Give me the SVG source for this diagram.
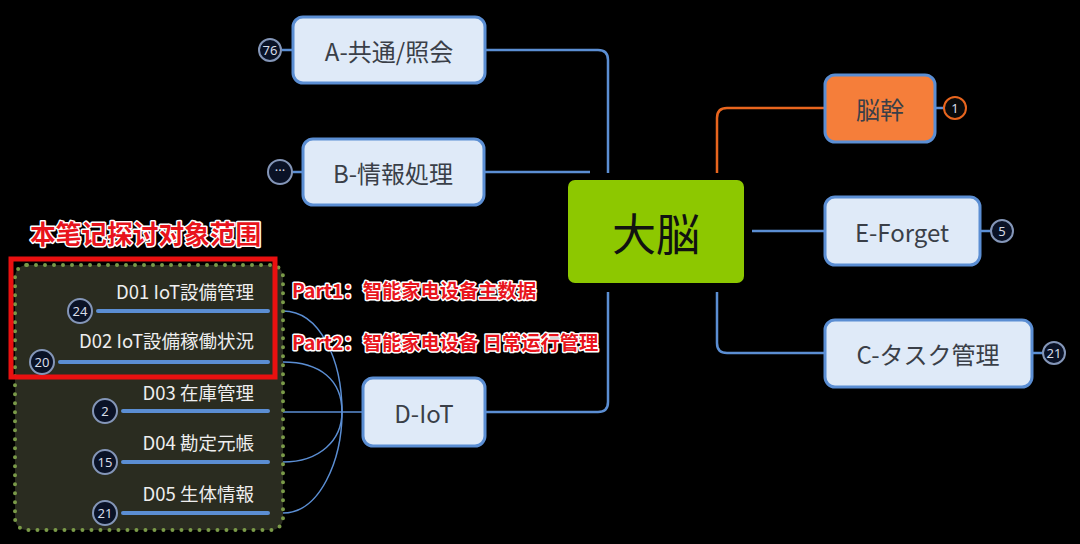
<svg xmlns="http://www.w3.org/2000/svg" width="1080" height="544" viewBox="0 0 1080 544">
<style>
.node{fill:#dfeaf8;stroke:#5b8ed3;stroke-width:3}
.nt{font-family:"Noto Sans CJK JP","Noto Sans",sans-serif;font-size:24px;fill:#3a3f48;text-anchor:middle;dominant-baseline:central}
.ln{fill:none;stroke:#5b8ed3;stroke-width:2.5}
.thin{fill:none;stroke:#5b8ed3;stroke-width:1.5}
.bar{stroke:#5b8ed3;stroke-width:4;stroke-linecap:round}
.badge{fill:#0a1226;stroke:#8496b8;stroke-width:2}
.bt{font-family:"Noto Sans","DejaVu Sans",sans-serif;font-size:13px;fill:#d8dde8;text-anchor:middle;dominant-baseline:central}
.dt{font-family:"Noto Sans CJK JP","Noto Sans",sans-serif;font-size:18.5px;fill:#eeeeee;text-anchor:end;dominant-baseline:central}
.red{font-family:"Noto Sans CJK SC","Noto Sans",sans-serif;font-weight:bold;fill:#e8141c;stroke:#ffffff;stroke-width:3;paint-order:stroke;stroke-linejoin:round}
</style>
<rect width="1080" height="544" fill="#000"/>
<g id="connectors">
<path class="ln" d="M485 50 H598 Q608 50 608 60 V173"/>
<path class="ln" d="M484 172 H590"/>
<path class="ln" d="M485 412 H598 Q608 412 608 402 V292"/>
<path fill="none" stroke="#e8651e" stroke-width="2.5" d="M717 173 V118 Q717 108 727 108 H825"/>
<path class="ln" d="M752 231 H825"/>
<path class="ln" d="M717 292 V343 Q717 353 727 353 H825"/>
<path class="ln" d="M282 50 H293"/>
<path class="ln" d="M292 172 H303"/>
<path class="ln" d="M935 108 H944" stroke="#e8651e"/>
<path class="ln" d="M980 231 H991"/>
<path class="ln" d="M1032 353 H1043"/>
<path class="thin" d="M283 311 C320 311 342 360 342 412"/>
<path class="thin" d="M283 362 C320 362 342 380 342 412"/>
<path class="thin" d="M283 412 H363"/>
<path class="thin" d="M283 462 C320 462 342 440 342 412"/>
<path class="thin" d="M283 513 C320 513 342 460 342 412"/>
</g>
<g id="scope">
<rect x="15" y="265" width="268" height="265" rx="12" fill="#2a2c20" stroke="#7a9a48" stroke-width="4" stroke-dasharray="0 9" stroke-linecap="round"/>
<rect x="11" y="259" width="264" height="118" fill="none" stroke="#ea1010" stroke-width="5"/>
<text class="red" x="30" y="232" font-size="25.7" dominant-baseline="central">本笔记探讨对象范围</text>
<text class="red" x="292" y="290" font-size="19.3" dominant-baseline="central">Part1：智能家电设备主数据</text>
<text class="red" x="292" y="342" font-size="19.3" dominant-baseline="central">Part2：智能家电设备 日常运行管理</text>
</g>
<g id="d01"><text class="dt" x="254" y="291">D01 IoT設備管理</text><line class="bar" x1="98" y1="311" x2="268" y2="311"/><circle class="badge" cx="80" cy="311" r="12"/><text class="bt" x="80" y="311">24</text></g>
<g id="d02"><text class="dt" x="254" y="340">D02 IoT設備稼働状況</text><line class="bar" x1="60" y1="362" x2="268" y2="362"/><circle class="badge" cx="42" cy="362" r="12"/><text class="bt" x="42" y="362">20</text></g>
<g id="d03"><text class="dt" x="254" y="392">D03 在庫管理</text><line class="bar" x1="123" y1="411" x2="268" y2="411"/><circle class="badge" cx="105" cy="411" r="12"/><text class="bt" x="105" y="411">2</text></g>
<g id="d04"><text class="dt" x="254" y="442">D04 勘定元帳</text><line class="bar" x1="123" y1="462" x2="268" y2="462"/><circle class="badge" cx="105" cy="462" r="12"/><text class="bt" x="105" y="462">15</text></g>
<g id="d05"><text class="dt" x="254" y="493">D05 生体情報</text><line class="bar" x1="123" y1="513" x2="268" y2="513"/><circle class="badge" cx="105" cy="513" r="12"/><text class="bt" x="105" y="513">21</text></g>
<g id="A"><rect class="node" x="293" y="17" width="192" height="66" rx="10"/><text class="nt" x="389" y="50">A-共通/照会</text><circle class="badge" cx="270" cy="50" r="11"/><text class="bt" x="270" y="50">76</text></g>
<g id="B"><rect class="node" x="303" y="139" width="181" height="66" rx="10"/><text class="nt" x="393" y="172">B-情報処理</text><circle class="badge" cx="280" cy="172" r="12"/><text class="bt" x="280" y="170">···</text></g>
<g id="center"><rect x="568" y="180" width="176" height="103" rx="7" fill="#8dc800"/><text x="656" y="232" font-family="'Noto Sans CJK JP',sans-serif" font-size="44" fill="#111" text-anchor="middle" dominant-baseline="central">大脳</text></g>
<g id="noukan"><rect x="825" y="75" width="110" height="67" rx="10" fill="#f57e3a" stroke="#5b8ed3" stroke-width="3"/><text class="nt" x="880" y="108" fill="#5a3520">脳幹</text><circle cx="955" cy="108" r="11" fill="#0a0a0a" stroke="#e8651e" stroke-width="2"/><text class="bt" x="955" y="108" fill="#f08040">1</text></g>
<g id="E"><rect class="node" x="825" y="197" width="155" height="68" rx="10"/><text class="nt" x="902" y="231">E-Forget</text><circle class="badge" cx="1002" cy="231" r="11"/><text class="bt" x="1002" y="231">5</text></g>
<g id="C"><rect class="node" x="825" y="320" width="207" height="67" rx="10"/><text class="nt" x="928" y="353">C-タスク管理</text><circle class="badge" cx="1054" cy="353" r="11"/><text class="bt" x="1054" y="353">21</text></g>
<g id="D"><rect class="node" x="363" y="378" width="122" height="68" rx="10"/><text class="nt" x="424" y="412">D-IoT</text></g>
</svg>
